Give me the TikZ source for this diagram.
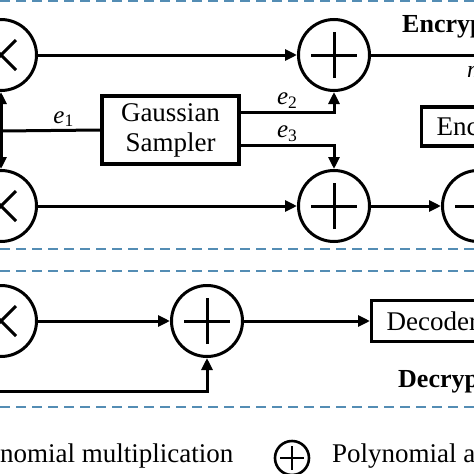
\documentclass[tikz,border=0pt]{standalone}
\usepackage{fontspec}
\setmainfont{Liberation Serif}
\usepackage{tikz}
\usetikzlibrary{calc,positioning,arrows.meta}
\usepackage{xcolor}
\definecolor{sepblue}{RGB}{84,141,180}

\tikzset{
  arr/.style={line width=3pt, -{Triangle[length=12pt,width=11pt]}},
  sepline/.style={sepblue, line width=1.8pt, dash pattern=on 10pt off 6pt},
  mulnode/.style={circle, draw, line width=3pt, minimum size=71pt, inner sep=0pt,
    path picture={\draw[line width=3pt]
      ([shift={(-15pt,-15pt)}]path picture bounding box.center) -- ([shift={(15pt,15pt)}]path picture bounding box.center)
      ([shift={(-15pt,15pt)}]path picture bounding box.center) -- ([shift={(15pt,-15pt)}]path picture bounding box.center);}},
  addnode/.style={circle, draw, line width=3pt, minimum size=71pt, inner sep=0pt,
    path picture={\draw[line width=3pt]
      ([xshift=-23pt]path picture bounding box.center) -- ([xshift=23pt]path picture bounding box.center)
      ([yshift=-23pt]path picture bounding box.center) -- ([yshift=23pt]path picture bounding box.center);}},
  addsmall/.style={circle, draw, line width=2.6pt, minimum size=34pt, inner sep=0pt,
    path picture={\draw[line width=2.4pt]
      ([xshift=-12pt]path picture bounding box.center) -- ([xshift=12pt]path picture bounding box.center)
      ([yshift=-12pt]path picture bounding box.center) -- ([yshift=12pt]path picture bounding box.center);}},
  boxnode/.style={draw, line width=3.2pt, rectangle, inner sep=0pt},
  elabel/.style={font=\fontsize{25}{28}\selectfont, inner sep=2pt}
}

\begin{document}
\begin{tikzpicture}[x=1pt, y=-1pt, font=\fontsize{27}{30}\selectfont]
\useasboundingbox (0,0) rectangle (474,474);
\clip (0,0) rectangle (474,474);

% separators between the two stages
\draw[sepline] (0,1) -- (474,1);
\draw[sepline] (0,249) -- (474,249);
\draw[sepline] (0,271) -- (474,271);
\draw[sepline] (0,407) -- (474,407);

% encryption stage
\node[mulnode] (mulA) at (1,55) {};
\node[mulnode] (mulB) at (1,206) {};
\node[addnode] (addA) at (334,55) {};
\node[addnode] (addB) at (334,206) {};
\node[addnode] (addC) at (478,206) {};
\node[boxnode, minimum width=137pt, minimum height=68pt, align=center] (gauss) at (170.5,130) {Gaussian\\Sampler};
\node[boxnode, anchor=west, minimum height=39pt, text width=90pt, inner xsep=15pt, align=left] (enc) at (420,126.5) {Enc};
\node[anchor=base west, inner sep=0pt, font=\fontsize{26}{30}\selectfont\bfseries] (enclabel) at (402,32) {Encryp};
\node[anchor=base west, font=\fontsize{24}{28}\selectfont\itshape, inner sep=0pt] (msg) at (467,77) {m};

\coordinate (split) at (1,131);
\coordinate (outA) at (480,55);

\draw[line width=3pt] (gauss.west) -- node[elabel, pos=0.37, above] {\textit{e}\textsubscript{1}} (split);
\draw[arr] (split) -- (mulA.south);
\draw[arr] (split) -- (mulB.north);
\draw[arr] ([yshift=18pt]gauss.east) -| node[elabel, pos=0.25, above] {\textit{e}\textsubscript{2}} (addA.south);
\draw[arr] ([yshift=-15pt]gauss.east) -| node[elabel, pos=0.25, above] {\textit{e}\textsubscript{3}} (addB.north);
\draw[arr] (mulA.east) -- (addA.west);
\draw[line width=3pt] (addA.east) -- (outA);
\draw[arr] (mulB.east) -- (addB.west);
\draw[arr] (addB.east) -- (addC.west);

% decryption stage
\node[mulnode] (mulC) at (1,321) {};
\node[addnode] (addD) at (207,321) {};
\node[boxnode, anchor=west, minimum height=41pt, text width=110pt, inner xsep=15pt, align=left] (dec) at (370,321) {Decoder};
\node[anchor=base west, inner sep=0pt, font=\fontsize{26}{30}\selectfont\bfseries] (declabel) at (398,387) {Decryp};

\coordinate (feedD) at (-5,391);
\draw[arr] (mulC.east) -- (addD.west);
\draw[arr] (feedD) -| (addD.south);
\draw[arr] (addD.east) -- (dec.west);

% legend
\node[anchor=base west, inner sep=0pt] (legmul) at (0,462) {nomial multiplication};
\node[addsmall] (legadd) at (292,458) {};
\node[anchor=base west, inner sep=0pt] (legaddtext) at (332,462) {Polynomial a};
\end{tikzpicture}
\end{document}
